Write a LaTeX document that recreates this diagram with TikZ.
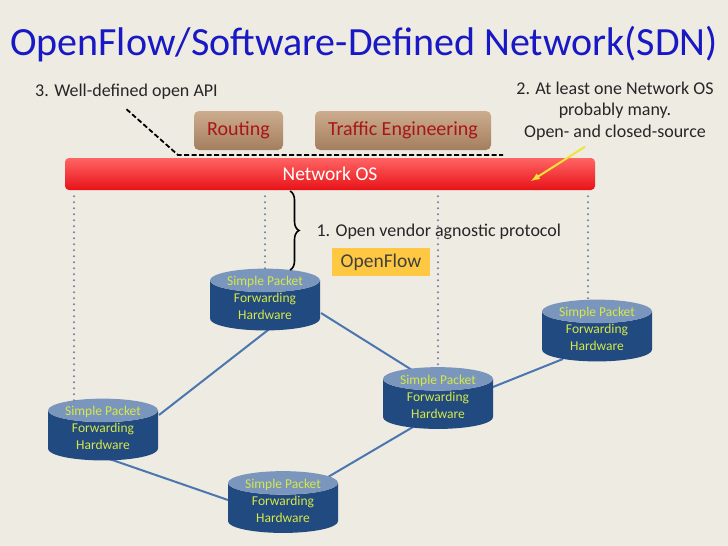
\documentclass[tikz,border=0pt]{standalone}
\usepackage{fontspec}
\setmainfont{Carlito}
\usepackage{xcolor}
\usetikzlibrary{shapes.geometric, arrows, calc, decorations.pathreplacing, backgrounds}

\definecolor{sfondo}{RGB}{238,235,226}
\definecolor{titolo}{RGB}{24,24,196}
\definecolor{hwcorpo}{RGB}{33,74,128}
\definecolor{hwtop}{RGB}{122,150,188}
\definecolor{hwtesto}{RGB}{214,232,72}
\definecolor{collegamento}{RGB}{76,118,176}
\definecolor{puntini}{RGB}{108,128,166}
\definecolor{marrone1}{RGB}{204,172,142}
\definecolor{marrone2}{RGB}{164,126,94}
\definecolor{rossoscuro}{RGB}{170,22,22}
\definecolor{rosso1}{RGB}{255,100,100}
\definecolor{rosso2}{RGB}{232,18,24}
\definecolor{giallo}{RGB}{255,200,66}
\definecolor{freccia}{RGB}{240,228,52}

% Testo degli switch
\newcommand{\hwtxt}{Simple Packet\\Forwarding\\Hardware\\[-2pt]\mbox{}}

\begin{document}
\begin{tikzpicture}[x=1pt, y=-1pt, >=latex,
    hw/.style={cylinder, shape border rotate=90, aspect=0.31,
        minimum width=110pt, minimum height=59pt, inner xsep=0pt, inner ysep=-16pt,
        cylinder uses custom fill, cylinder body fill=hwcorpo,
        cylinder end fill=hwtop, text=hwtesto, align=center,
        font=\fontsize{13.5}{17}\selectfont},
    app/.style={rounded corners=5pt, top color=marrone1, bottom color=marrone2,
        text=rossoscuro, minimum height=39pt, font=\fontsize{20}{24}\selectfont},
    nota/.style={align=center, text=black!85, font=\fontsize{18}{21.5}\selectfont},
    link/.style={collegamento, line width=2pt},
    puntinato/.style={puntini, line width=2.2pt, line cap=round, dash pattern=on 0pt off 6pt}]

    % Sfondo e dimensioni
    \begin{pgfonlayer}{background}
        \fill[sfondo] (0,0) rectangle (728,546);
    \end{pgfonlayer}
    \useasboundingbox (0,0) rectangle (728,546);

    % Titolo
    \node[text=titolo, font=\fontsize{40}{46}\selectfont] (tit) at (364,44)
        {OpenFlow/Software-Defined Network(SDN)};

    % Note in alto
    \node[nota] (api) at (126.5,92) {3. Well-defined open API};
    \node[nota] (nos) at (615,111) {2. At least one Network OS\\probably many.\\Open- and closed-source};

    % Applicazioni
    \node[app, minimum width=89pt] (rout) at (238.5,130.5) {Routing};
    \node[app, minimum width=176pt] (traf) at (403,130.5) {Traffic Engineering};

    % Barra Network OS
    \node[rounded corners=4pt, top color=rosso1, bottom color=rosso2, text=white,
        minimum width=530pt, minimum height=32pt, font=\fontsize{19.5}{22}\selectfont]
        (os) at (330,174) {Network OS};

    % Linea tratteggiata della API
    \coordinate (apigomito) at (178,155);
    \coordinate (apifine) at (503,155);
    \draw[black, line width=1.8pt, dash pattern=on 5pt off 2.5pt]
        ([yshift=-6pt]api.south) -- (apigomito) -- (apifine);

    % Freccia gialla
    \coordinate (frecciafine) at (531,181);
    \draw[->, freccia, line width=2pt] ([xshift=-30pt,yshift=-3pt]nos.south) -- (frecciafine);

    % Hardware di inoltro
    \node[hw] (a) at (265,305.5) {\hwtxt};
    \node[hw] (b) at (597,336.5) {\hwtxt};
    \node[hw] (c) at (438,404) {\hwtxt};
    \node[hw] (d) at (103,435.5) {\hwtxt};
    \node[hw] (e) at (283,508) {\hwtxt};

    % Linee punteggiate verso il Network OS
    \foreach \x/\y in {74/402, 265/271, 438/369, 588/302} {
        \draw[puntinato] (os.south -| \x,0) ++(0,6) -- (\x,\y);
    }

    % Graffa e protocollo
    \draw[black, line width=1.6pt, decorate, decoration={brace, amplitude=9pt}]
        (290,191) -- (290,270);
    \node[nota, anchor=west] (prot) at (313,232) {1. Open vendor agnostic protocol};
    \node[fill=giallo, minimum width=98pt, minimum height=28pt, text=black!75,
        font=\fontsize{19.5}{22}\selectfont] (of) at (381,262) {OpenFlow};

    % Collegamenti tra gli switch
    \begin{scope}[on background layer]
        \draw[link] ($(a)+(56,7.5)$) -- ($(c)+(-26,-34)$);
        \draw[link] ($(a)+(5,23)$) -- ($(d)+(56,-20.5)$);
        \draw[link] ($(c)+(55,-17)$) -- ($(b)+(-34,22.5)$);
        \draw[link] ($(c)+(-25,23)$) -- ($(e)+(45,-31)$);
        \draw[link] ($(d)+(5,23)$) -- ($(e)+(-55,-8)$);
    \end{scope}

\end{tikzpicture}
\end{document}
